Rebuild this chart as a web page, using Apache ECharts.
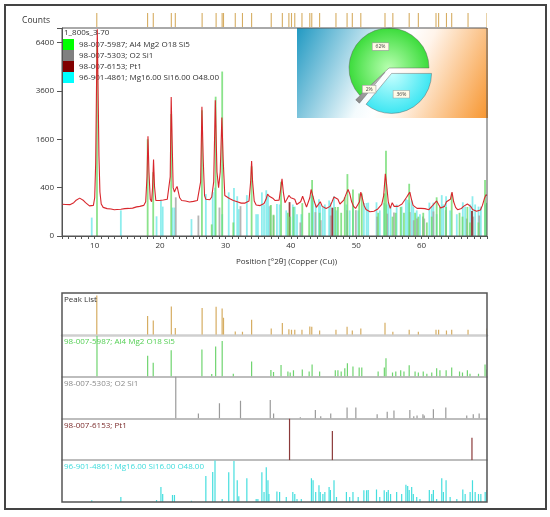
<!DOCTYPE html>
<html><head><meta charset="utf-8">
<script src="https://cdn.jsdelivr.net/npm/echarts@6/dist/echarts.min.js"></script>
<style>html,body{margin:0;padding:0;background:#fff}#c{width:550px;height:517px}</style>
</head><body><div id="c"></div>
<script>
// ---------- DATA ----------
const scanName = '1_800s_3-70';
// measured pattern: [2theta, counts]
const measured = [
[5.0,172],[5.3,165],[5.6,170],[5.9,160],[6.2,168],[6.5,175],[6.8,190],[7.1,215],[7.4,235],[7.7,245],[8.0,240],[8.3,215],[8.6,190],[8.9,168],[9.2,155],[9.5,150],[9.8,160],
[10.0,250],[10.15,900],[10.3,4500],[10.4,7300],[10.5,4200],[10.65,1100],[10.8,330],[11.0,175],[11.3,140],[11.6,135],[11.9,128],[12.2,132],[12.5,125],[12.8,130],[13.0,118],[13.2,105],[13.4,120],[13.7,128],[14.0,122],[14.3,130],[14.6,128],[14.9,135],[15.2,130],[15.5,138],[15.8,133],[16.1,140],[16.4,145],[16.7,160],[16.9,150],[17.2,150],[17.5,160],[17.8,200],
[18.0,600],[18.15,1700],[18.3,700],[18.5,230],[18.7,200],[18.85,400],[19.0,1000],[19.15,420],[19.35,215],[19.6,205],[19.9,215],[20.2,210],[20.5,222],[20.8,215],[21.1,230],[21.4,250],[21.55,600],[21.7,3300],[21.85,1500],[22.0,400],[22.2,330],[22.4,380],[22.6,420],[22.8,330],[23.0,250],[23.3,215],[23.6,205],[23.9,210],[24.2,205],[24.5,198],[24.8,200],[25.1,205],[25.4,210],[25.7,215],[26.0,230],
[26.2,500],[26.4,2850],[26.6,1000],[26.8,280],[27.0,230],[27.3,215],[27.6,225],[27.9,260],[28.2,500],[28.45,3150],[28.7,700],[28.95,400],[29.2,700],[29.45,2400],[29.65,1000],[29.9,280],[30.2,255],[30.6,240],[30.9,225],[31.2,215],[31.5,210],[31.8,200],[32.1,195],[32.4,185],[32.7,180],[33.0,185],[33.3,190],[33.6,210],[33.85,500],[34.0,960],[34.15,500],[34.4,210],[34.7,165],[35.0,160],[35.3,158],[35.6,165],[35.9,180],
[36.2,230],[36.45,300],[36.7,270],[37.0,265],[37.3,240],[37.6,215],[37.9,200],[38.2,220],[38.45,380],[38.65,560],[38.85,330],[39.1,190],[39.4,230],[39.7,282],[40.0,250],[40.3,262],[40.6,230],[40.9,170],[41.2,155],[41.5,200],[41.8,270],[42.1,200],[42.4,142],[42.7,160],[42.9,250],[43.1,370],[43.3,340],[43.6,200],[43.9,140],[44.2,145],[44.5,200],[44.8,150],[45.1,135],[45.4,130],[45.7,140],[46.0,150],[46.3,200],[46.6,260],[46.9,285],[47.2,230],[47.5,175],[47.8,180],[48.1,220],[48.45,300],[48.75,370],[49.0,310],[49.3,200],[49.6,150],[49.9,130],
[50.2,135],[50.5,200],[50.7,330],[50.9,260],[51.2,160],[51.5,120],[51.8,105],[52.1,100],[52.4,98],[52.7,105],[53.0,115],[53.3,125],[53.6,140],[53.9,170],[54.2,280],[54.45,660],[54.65,450],[54.9,200],[55.2,130],[55.5,190],[55.8,150],[56.1,135],[56.4,150],[56.7,170],[57.0,175],[57.3,180],[57.7,256],[58.0,300],[58.2,330],[58.45,230],[58.7,160],[59.0,140],[59.3,130],[59.6,125],[59.9,130],
[60.2,122],[60.5,128],[60.8,125],[61.1,118],[61.4,130],[61.7,160],[62.0,180],[62.3,210],[62.6,170],[62.9,135],[63.2,120],[63.5,150],[63.8,200],[64.1,190],[64.4,230],[64.65,330],[64.9,200],[65.2,140],[65.5,118],[65.8,112],[66.1,130],[66.4,150],[66.7,170],[67.0,175],[67.25,185],[67.5,150],[67.8,120],[68.1,110],[68.4,105],[68.7,108],[69.0,115],[69.3,160],[69.6,240],[69.85,290],[70.0,280]
];
// peak list: [2theta, relative height %]
const peakList = [[10.32,94],[18.09,45],[18.96,34],[21.72,68],[22.33,16],[26.43,64],[28.57,67],[29.49,63],[29.7,41],[31.5,8],[32.6,7],[34.0,36],[37.0,15],[38.7,28],[39.7,13],[40.1,12],[40.6,12],[41.7,12],[42.9,20],[43.2,19],[44.4,10],[46.9,12],[48.6,19],[49.4,10],[50.7,15],[54.4,29],[55.6,7],[58.1,12],[59.5,7],[62.2,12],[62.6,12],[63.8,10],[64.6,12],[67.1,12],[70.0,15]];
// reference phases: [2theta, relative intensity %]
const phaseAl4Mg2 = [[10.35,98],[18.1,50],[18.95,33],[21.7,63],[26.4,65],[27.9,6],[28.5,72],[29.5,85],[31.2,7],[34.0,36],[36.95,16],[37.35,11],[38.5,28],[39.55,12],[39.9,10],[40.4,15],[41.75,17],[42.8,12],[43.25,29],[44.4,12],[46.8,15],[47.2,15],[47.7,12],[48.25,20],[48.65,32],[49.5,24],[50.45,22],[50.85,22],[53.35,12],[54.3,22],[54.55,44],[55.55,10],[56.05,12],[56.8,15],[57.3,12],[58.1,27],[59.0,12],[59.5,10],[60.25,12],[60.8,7],[61.55,10],[62.3,20],[62.8,15],[63.75,15],[64.6,22],[65.8,12],[66.25,10],[67.0,15],[67.4,7],[68.7,7],[69.7,29],[70.0,17]];
const phaseO2Si1 = [[22.4,100],[25.86,12],[29.08,36],[32.3,42],[36.85,44],[37.36,12],[41.45,3],[43.75,20],[44.57,5],[46.1,12],[48.6,26],[49.94,26],[53.2,10],[54.74,16],[55.77,19],[58.2,20],[58.8,5],[59.3,7],[60.2,10],[60.4,7],[61.8,22],[63.7,26],[66.9,7],[67.9,10],[68.8,12]];
const phasePt1 = [[39.8,100],[46.35,70],[67.7,54]];
const phaseMg16 = [[9.55,4],[14.0,12],[19.46,5],[20.13,36],[20.4,19],[21.9,17],[22.2,17],[24.8,3],[27.0,62],[28.05,72],[28.4,100],[29.5,7],[30.5,71],[31.3,98],[31.8,52],[32.04,14],[33.27,57],[34.7,7],[34.96,7],[35.57,71],[35.9,24],[36.24,83],[36.5,52],[36.65,19],[37.87,25],[38.28,24],[39.3,12],[40.3,24],[40.6,19],[40.94,7],[41.6,7],[43.15,57],[43.4,52],[43.8,24],[44.3,40],[44.5,24],[44.9,19],[45.2,24],[45.85,36],[46.05,29],[46.6,52],[46.98,12],[48.5,24],[49.0,12],[49.5,24],[50.3,12],[51.17,28],[51.58,28],[51.83,29],[53.1,30],[53.6,12],[54.28,28],[54.65,24],[54.9,29],[55.25,19],[56.18,24],[56.95,19],[57.6,41],[57.87,38],[58.1,29],[58.48,36],[58.73,19],[59.25,12],[59.75,7],[61.18,29],[61.55,19],[61.8,29],[62.3,7],[63.08,57],[63.33,24],[63.74,52],[64.36,12],[65.38,7],[66.3,30],[66.66,19],[67.42,24],[67.78,52],[68.19,24],[68.7,19],[69.06,19],[69.72,24],[69.98,29]];
const phaseNames = ['98-007-5987; Al4 Mg2 O18 Si5','98-007-5303; O2 Si1','98-007-6153; Pt1','96-901-4861; Mg16.00 Si16.00 O48.00'];
const xTickLabels = [10,20,30,40,50,60];
const yTickLabels = [0,400,1600,3600,6400];
const pieValues = [36,2,62]; // Mg16Si16O48, O2Si1, Al4Mg2O18Si5 (%)

// ---------- STYLE ----------
const FONT = '"Open Sans","Noto Sans",sans-serif';
const legendColors = ['#00ff00','#808080','#800000','#00ffff'];
const stripColors = ['#6fd46f','#9a9a9a','#8b3a3a','#45dede'];
const stripTextColors = ['#55cf55','#8a8a8a','#7b2c2c','#3edcdc'];
const topColors = ['#6edc6e','#a8a8a8','#8b1a1a','#7aeaea'];
// sqrt-scale heights of reference sticks in the scan plot: [scale, exponent]
const topMap = [[80,1],[16,0.3],[14,0.5],[20,0.3]];
const phases = [phaseAl4Mg2, phaseO2Si1, phasePt1, phaseMg16];
const GOLD = '#d6ad62';

const L = 62, W = 425;
const stripTop = 293, stripH = 41.8;

function sticks(name, data, ai, color, width, opacity, z) {
  return {
    type: 'custom', name, xAxisIndex: ai, yAxisIndex: ai, data, clip: true, silent: true, z: z || 2,
    itemStyle: { color },
    renderItem: function (params, api) {
      const x = api.value(0), h = api.value(1);
      const a = api.coord([x, 0]), b = api.coord([x, h]);
      return { type: 'line', shape: { x1: a[0], y1: a[1], x2: b[0], y2: b[1] },
        style: { stroke: color, lineWidth: width, opacity: opacity } };
    }
  };
}

const grid = [
  { left: L, top: 28, width: W, height: 208 },
  { left: L, top: 13, width: W, height: 14 }
];
const xAxis = [
  { gridIndex: 0, type: 'value', min: 5, max: 70, interval: 1,
    axisLine: { lineStyle: { color: '#555' } },
    axisTick: { length: 3, lineStyle: { color: '#555' } },
    splitLine: { show: false },
    axisLabel: { fontSize: 8, color: '#333', fontFamily: FONT, margin: 6,
      formatter: v => (xTickLabels.indexOf(v) >= 0 ? String(v) : '') },
    name: 'Position [°2θ] (Copper (Cu))', nameLocation: 'middle', nameGap: 22,
    nameTextStyle: { fontSize: 8, color: '#333', fontFamily: FONT, padding: [0, 0, 0, 24] } },
  { gridIndex: 1, type: 'value', min: 5, max: 70, show: false }
];
const yAxis = [
  { gridIndex: 0, type: 'value', min: 0, max: 86, interval: 20,
    axisLine: { show: true, lineStyle: { color: '#555' } },
    axisTick: { show: true, length: 5, lineStyle: { color: '#555' } },
    splitLine: { show: false },
    axisLabel: { fontSize: 8, color: '#333', fontFamily: FONT, margin: 8,
      formatter: v => (yTickLabels.indexOf(Math.round(v * v)) >= 0 && v % 20 === 0 ? String(v * v) : '') },
    name: 'Counts', nameLocation: 'end', nameGap: 3,
    nameTextStyle: { fontSize: 8.5, color: '#333', fontFamily: FONT, align: 'right', verticalAlign: 'bottom', padding: [0, 12, 0, 0] } },
  { gridIndex: 1, type: 'value', min: 0, max: 1, show: false }
];
for (let i = 0; i < 5; i++) {
  grid.push({ left: L, top: stripTop + i * stripH, width: W, height: stripH });
  xAxis.push({ gridIndex: i + 2, type: 'value', min: 5, max: 70,
    axisLabel: { show: false }, axisTick: { show: false }, splitLine: { show: false },
    axisLine: { show: i < 4, lineStyle: { color: i === 0 ? '#cfcfcf' : '#a8a8a8', width: i === 0 ? 2.5 : 1.5 } } });
  yAxis.push({ gridIndex: i + 2, type: 'value', min: 0, max: 100, show: false });
}

const series = [];
// scan plot reference sticks (cyan, gray, Pt, green order)
[3, 1, 2, 0].forEach(k => {
  const m = topMap[k];
  const d = phases[k].map(p => [p[0], m[0] * Math.pow(p[1] / 100, m[1])]);
  series.push(sticks(phaseNames[k], d, 0, topColors[k], 1.8, k === 0 ? 0.8 : 0.85, 2));
});
series.push({ type: 'line', name: scanName, xAxisIndex: 0, yAxisIndex: 0, silent: true, z: 5,
  data: measured.map(p => [p[0], Math.sqrt(p[1])]), showSymbol: false,
  lineStyle: { color: '#d8262c', width: 1.1 } });
// peak markers above the plot
series.push(sticks('peak markers', peakList.map(p => [p[0], 1]), 1, GOLD, 1.1, 1));
// strips
series.push(sticks('Peak List', peakList, 2, GOLD, 1.2, 1));
phases.forEach((ph, k) => series.push(sticks(phaseNames[k] + ' ', ph, k + 3, stripColors[k], 1.2, 1)));

// pie
const rg = (c0, c1) => ({ type: 'radial', x: 389, y: 68, r: 40, global: true,
  colorStops: [{ offset: 0, color: c0 }, { offset: 1, color: c1 }] });
series.push({
  type: 'pie', center: [389, 68], radius: 40, startAngle: 0, clockwise: true, z: 10,
  selectedMode: 'multiple', selectedOffset: 6, silent: true, emphasis: { scale: false },
  label: { show: true, position: 'inside', formatter: '{c}%', fontSize: 5, color: '#444',
    fontFamily: FONT, backgroundColor: '#fffbe8', borderColor: '#a0a0a0', borderWidth: 0.6, padding: [1, 3] },
  labelLine: { show: false },
  itemStyle: { borderColor: 'rgba(90,90,90,0.55)', borderWidth: 0.8 },
  data: [
    { value: pieValues[0], name: 'c', selected: true, itemStyle: { color: rg('#c8ffff', '#3ee6f2') } },
    { value: pieValues[1], name: 'g', selected: true, itemStyle: { color: rg('#d0d0d0', '#8c8c8c') } },
    { value: pieValues[2], name: 'a', itemStyle: { color: rg('#b8ffb0', '#3cdc3c') } }
  ]
});

const titles = [
  { text: scanName, left: 64, top: 29, padding: 0, textStyle: { fontSize: 8, fontWeight: 'normal', color: '#333', fontFamily: FONT } },
  { text: 'Peak List', left: 64, top: stripTop + 3, padding: 0, textStyle: { fontSize: 8, fontWeight: 'normal', color: '#333', fontFamily: FONT } }
];
phaseNames.forEach((n, k) => titles.push({ text: n, left: 64, top: stripTop + (k + 1) * stripH + 3, padding: 0,
  textStyle: { fontSize: 8, fontWeight: 'normal', color: stripTextColors[k], fontFamily: FONT } }));

const option = {
  animation: false,
  backgroundColor: '#fff',
  title: titles,
  grid, xAxis, yAxis, series,
  legend: {
    data: phaseNames.map((n, k) => ({ name: n, icon: 'rect', itemStyle: { color: legendColors[k] } })),
    orient: 'vertical', left: 63, top: 39, itemWidth: 11, itemHeight: 11, itemGap: 0, padding: 0,
    selectedMode: false, textStyle: { fontSize: 8, color: '#333', fontFamily: FONT }
  },
  graphic: [
    { type: 'rect', z: -10, shape: { x: 297, y: 28, width: 191, height: 90 },
      style: { fill: { type: 'linear', x: 0, y: 0, x2: 1, y2: 1,
        colorStops: [{ offset: 0, color: '#2199c2' }, { offset: 0.42, color: '#f4fbfd' }, { offset: 0.5, color: '#ffffff' }, { offset: 0.6, color: '#fff4ea' }, { offset: 1, color: '#f7952e' }] } } },
    { type: 'rect', z: 100, shape: { x: L, y: 28, width: W, height: 208 }, style: { fill: 'none', stroke: '#555', lineWidth: 1 } },
    { type: 'rect', z: 100, shape: { x: L, y: stripTop, width: W, height: 5 * stripH }, style: { fill: 'none', stroke: '#555', lineWidth: 1.5 } },
    { type: 'rect', z: 100, shape: { x: 5, y: 5, width: 541, height: 504 }, style: { fill: 'none', stroke: '#444', lineWidth: 2 } }
  ]
};
const chart = echarts.init(document.getElementById('c'), null, { renderer: 'canvas' });
chart.setOption(option);
</script></body></html>
